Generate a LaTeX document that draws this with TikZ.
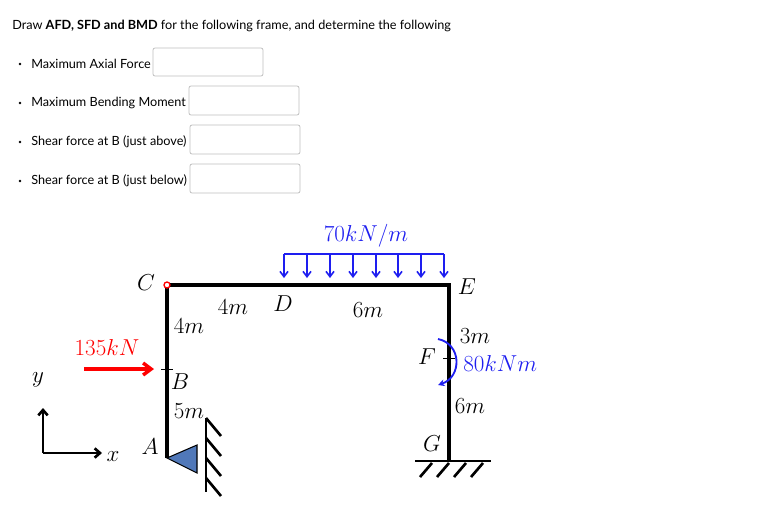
\documentclass[tikz,border=0pt]{standalone}
\usepackage{fontspec}
\setmainfont{Lato}
\usetikzlibrary{arrows.meta}
\begin{document}
\begin{tikzpicture}[x=0.75pt,y=-0.75pt,
  member/.style={line width=2.6pt},
  txt/.style={anchor=west,inner sep=0pt,font=\fontsize{9.5}{11}\selectfont},
  ansbox/.style={draw=black!25,rounded corners=1.5pt,line width=0.6pt},
  lbl/.style={inner sep=0pt,font=\fontsize{16}{18}\selectfont},
  blu/.style={draw={rgb,255:red,30;green,30;blue,240},text={rgb,255:red,30;green,30;blue,240}},
  darr/.style={-{Straight Barb[length=4pt,width=6pt]},line width=1.2pt}]
\useasboundingbox (0,0) rectangle (776,519);
% header
\node[txt] (t0) at (12,26) {Draw \textbf{AFD, SFD and BMD} for the following frame, and determine the following};
\foreach \y/\t [count=\i] in {64/Maximum Axial Force,103/Maximum Bending Moment,142/Shear force at B (just above),181/Shear force at B (just below)}{
  \fill (20,\y) circle (1.3);
  \node[txt] (q\i) at (31,\y) {\t};
}
\draw[ansbox] (153,48) rectangle (263,76);
\draw[ansbox] (189,86) rectangle (299,115);
\draw[ansbox] (190,125) rectangle (300,154);
\draw[ansbox] (190,164) rectangle (300,193);
% frame
\coordinate (A) at (167,458);
\coordinate (B) at (167,369);
\coordinate (C) at (167,285);
\coordinate (E) at (449,285);
\coordinate (F) at (449,358);
\coordinate (G) at (449,461);
\draw[member] (A) -- (C) -- (E) -- (G);
\draw[red,fill=white,line width=1pt] (C) circle (3);
\draw[line width=0.6pt] (161,369) -- (173,369);
\draw[line width=0.6pt] (443,358) -- (455,358);
% support A
\draw[line width=0.8pt,fill={rgb,255:red,80;green,120;blue,185}] (A) -- (197,445) -- (197,473) -- cycle;
\draw[line width=2pt] (206,418) -- (206,492);
\foreach \y in {418,438,458,478} \draw[line width=2pt] (206,\y) -- (221,\y+18);
% support G
\draw[line width=2pt] (415,461) -- (491,461);
\foreach \x in {432,449,466,483} \draw[line width=2pt] (\x,463) -- (\x-12,477);
% distributed load
\draw[blu,line width=1.2pt] (284,254) -- (444,254);
\foreach \x in {284,307,330,353,376,398,421,444} \draw[blu,darr] (\x,254) -- (\x,278);
\node[lbl,blu,draw=none] (w) at (366,236) {$70kN/m$};
% point load
\draw[red,-{Straight Barb[length=6pt,width=9pt]},line width=2.6pt] (84,369) -- (154,369);
\node[lbl,text=red] (P) at (107,347) {$135kN$};
% moment
\draw[blu,line width=1.4pt,-{Stealth[length=5pt,width=5pt]}] (438,339) .. controls (462,344) and (462,377) .. (438,385);
\node[lbl,blu,draw=none,anchor=west] (M) at (463,363) {$80kNm$};
% labels
\node[lbl] at (146,283) {$C$};
\node[lbl] at (189,326) {$4m$};
\node[lbl] at (180,382) {$B$};
\node[lbl] at (189,411) {$5m$};
\node[lbl] at (150,447) {$A$};
\node[lbl] at (233,307) {$4m$};
\node[lbl] at (283,304) {$D$};
\node[lbl] at (368,310) {$6m$};
\node[lbl] at (467,287) {$E$};
\node[lbl] at (475,336) {$3m$};
\node[lbl] at (427,357) {$F$};
\node[lbl] at (470,406) {$6m$};
\node[lbl] at (432,444) {$G$};
% axes
\coordinate (O) at (43,453);
\draw[line width=2pt,-{Straight Barb[length=4pt,width=7pt]}] (O) -- (43,408);
\draw[line width=2pt,-{Straight Barb[length=4pt,width=7pt]}] (O) -- (102,453);
\node[lbl] at (38,380) {$y$};
\node[lbl] at (113,457) {$x$};
\end{tikzpicture}
\end{document}
